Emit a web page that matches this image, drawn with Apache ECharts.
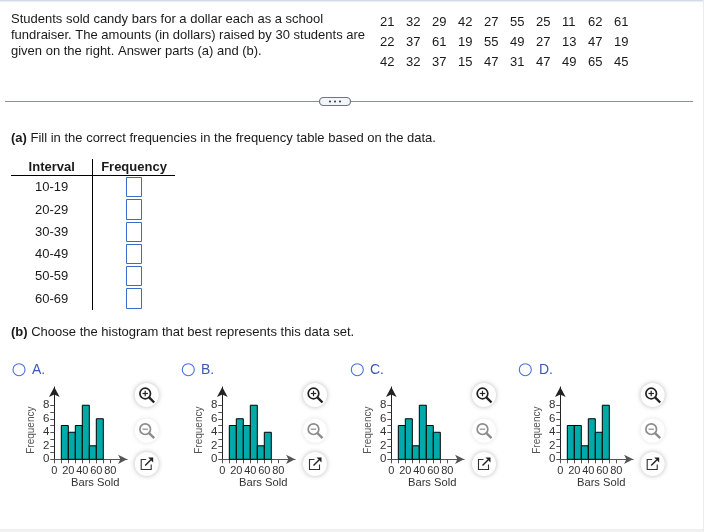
<!DOCTYPE html>
<html><head><meta charset="utf-8">
<style>html,body{margin:0;padding:0;background:#fff}#c{width:704px;height:532px}</style>
<script src="https://cdn.jsdelivr.net/npm/echarts@6/dist/echarts.min.js"></script>
</head><body><div id="c"></div>
<script>
const questionLines = ['Students sold candy bars for a dollar each as a school','fundraiser. The amounts (in dollars) raised by 30 students are','given on the right. Answer parts (a) and (b).'];
const dataRow1 = [21,32,29,42,27,55,25,11,62,61];
const dataRow2 = [22,37,61,19,55,49,27,13,47,19];
const dataRow3 = [42,32,37,15,47,31,47,49,65,45];
const intervals = ['10-19','20-29','30-39','40-49','50-59','60-69'];
const binStarts = [10,20,30,40,50,60];
const binWidth = 10;
const freqA = [5,4,5,8,2,6];
const freqB = [5,6,5,8,2,4];
const freqC = [5,6,2,8,5,4];
const freqD = [5,5,2,6,4,8];
const optionNames = ['A.','B.','C.','D.'];
const xTicks = [0,10,20,30,40,50,60,70,80];
const xLabels = [0,20,40,60,80];
const yTicks = [0,1,2,3,4,5,6,7,8];
const yLabels = [0,2,4,6,8];
const FONT = 'Arial, "Liberation Sans", sans-serif';
const allFreq = [freqA,freqB,freqC,freqD];
const x0s = [54.3,222.3,391.3,560.3];
const radioX = [19,188.3,357.3,525.3];
const labelX = [32,201,370,539];
const iconX = [146.7,315,484,652.7];
const gfx = [];
const T = (t,x,y,o={}) => gfx.push({type:'text',silent:true,style:Object.assign({text:String(t),x,y:y+1,fill:'#1a1a1a',font:'13px '+FONT,verticalAlign:'middle',align:'left'},o)});
const L = (x1,y1,x2,y2,stroke,lw=1,extra={}) => ({type:'line',silent:true,shape:{x1,y1,x2,y2},style:Object.assign({stroke,lineWidth:lw},extra)});
const R = (x,y,w,h,style,r=0) => ({type:'rect',silent:true,shape:{x,y,width:w,height:h,r},style});

gfx.push(R(0,0,704,1.5,{fill:'#d5dbe6'}));
gfx.push(R(0,529,704,3,{fill:'#f0f0f0'}));
gfx.push(R(703,0,1,532,{fill:'#ececec'}));
questionLines.forEach((s,i)=>T(s,11,[18.5,34.5,50.5][i]));
[dataRow1,dataRow2,dataRow3].forEach((row,r)=>row.forEach((v,c)=>T(v,380+c*26,[21,41,61][r])));
gfx.push(L(5,101.5,693,101.5,'#8a8f99',1));
gfx.push(R(319.5,97.5,31,8,{fill:'#f3f5f8',stroke:'#6d7580',lineWidth:1.2},4));
[330,335,340].forEach(x=>gfx.push({type:'circle',silent:true,shape:{cx:x,cy:101.5,r:1.1},style:{fill:'#3f4753'}}));

gfx.push({type:'text',silent:true,style:{x:11,y:138.5,verticalAlign:'middle',fill:'#1a1a1a',text:'{b|(a)} Fill in the correct frequencies in the frequency table based on the data.',rich:{b:{font:'bold 13px '+FONT,fill:'#1a1a1a'}},font:'13px '+FONT}});
T('Interval',51.7,166,{align:'center',font:'bold 13px '+FONT});
T('Frequency',134,166,{align:'center',font:'bold 13px '+FONT});
gfx.push(L(11,175.5,175,175.5,'#000',1));
gfx.push(L(92.5,159,92.5,310,'#000',1));
const rowY=[186.3,209,231,253,275,298];
const boxT=[177.5,199.5,222.5,244.5,266.5,288.5];
const boxH=[19,20,19,19,19,20];
intervals.forEach((s,i)=>{T(s,51.7,rowY[i],{align:'center'});gfx.push(R(126.5,boxT[i],15,boxH[i],{fill:'#fff',stroke:'#3b6cc7',lineWidth:1}));});
gfx.push({type:'text',silent:true,style:{x:11,y:332.2,verticalAlign:'middle',fill:'#1a1a1a',text:'{b|(b)} Choose the histogram that best represents this data set.',rich:{b:{font:'bold 13px '+FONT,fill:'#1a1a1a'}},font:'13px '+FONT}});

function icons(cx){
  const disc=(cy,a)=>({type:'circle',silent:true,shape:{cx,cy,r:12},style:{fill:'#fff',shadowBlur:5,shadowColor:'rgba(0,0,0,'+a+')'}});
  const mag=(cy,col,plus)=>{
    const a=[disc(cy,plus?.28:.12),
      {type:'circle',silent:true,shape:{cx:cx-1.5,cy:cy-1.5,r:5.3},style:{fill:'none',stroke:col,lineWidth:1.7}},
      L(cx+2.4,cy+2.4,cx+7.5,cy+7.5,col,2.4),L(cx-4.2,cy-1.5,cx+1.2,cy-1.5,col,1.2)];
    if(plus)a.push(L(cx-1.5,cy-4.2,cx-1.5,cy+1.2,col,1.2));
    return a;};
  gfx.push(...mag(395,'#222',true),...mag(430.7,'#8c8c8c',false));
  const y=464;
  gfx.push(disc(y,.28),
   {type:'polyline',silent:true,shape:{points:[[cx-.5,y-4.5],[cx-5.5,y-4.5],[cx-5.5,y+5.5],[cx+4.5,y+5.5],[cx+4.5,y+.5]]},style:{fill:'none',stroke:'#333',lineWidth:1.1}},
   L(cx-1.5,y+1.5,cx+4,y-4,'#222',1.4),
   {type:'polygon',silent:true,shape:{points:[[cx+1.5,y-6.5],[cx+6.5,y-6.5],[cx+6.5,y-1.5]]},style:{fill:'#222'}});
}
optionNames.forEach((n,i)=>{
  gfx.push({type:'circle',silent:true,shape:{cx:radioX[i],cy:369.7,r:6},style:{fill:'#fff',stroke:'#4a6fd8',lineWidth:1.1}});
  T(n,labelX[i],368.9,{font:'14px '+FONT,fill:'#3d57b8'});
  icons(iconX[i]);
});

const grids=[],xAxes=[],yAxes=[],series=[];
allFreq.forEach((freq,i)=>{
  grids.push({left:x0s[i],top:387,width:72.8,height:72.3,containLabel:false,outerBoundsMode:'none'});
  xAxes.push({type:'value',gridIndex:i,min:0,max:104,splitLine:{show:false},
    name:'Bars Sold',nameLocation:'middle',nameGap:17,nameTextStyle:{fontFamily:FONT,fontSize:11.2,color:'#333',padding:[0,0,0,9]},
    axisLine:{show:true,symbol:['none','arrow'],symbolSize:[7,9],lineStyle:{color:'#555',width:1}},
    axisTick:{show:true,customValues:xTicks,length:4,lineStyle:{color:'#555'}},
    axisLabel:{customValues:xLabels,margin:6,fontFamily:FONT,fontSize:11,color:'#333',hideOverlap:false}});
  yAxes.push({type:'value',gridIndex:i,min:0,max:10.7,splitLine:{show:false},
    name:'Frequency',nameLocation:'middle',nameGap:18.5,nameTextStyle:{fontFamily:FONT,fontSize:10,color:'#555',padding:[0,14,0,0]},
    axisLine:{show:true,symbol:['none','arrow'],symbolSize:[8,10],lineStyle:{color:'#222',width:1}},
    axisTick:{show:true,customValues:yTicks,length:4,lineStyle:{color:'#555'}},
    axisLabel:{customValues:yLabels,margin:5,fontFamily:FONT,fontSize:11.5,color:'#333',hideOverlap:false}});
  series.push({type:'custom',xAxisIndex:i,yAxisIndex:i,clip:false,silent:true,
    data:binStarts.map((b,k)=>[b,freq[k]]),
    encode:{x:0,y:1},
    renderItem:(p,api)=>{
      const a=api.coord([api.value(0),0]),b=api.coord([api.value(0)+binWidth,api.value(1)]);
      return {type:'rect',shape:{x:a[0],y:b[1],width:b[0]-a[0],height:a[1]-b[1]},style:{fill:'#00aaa8',stroke:'#000',lineWidth:1}};
    }});
});
const chart=echarts.init(document.getElementById('c'),null,{width:704,height:532});
chart.setOption({animation:false,backgroundColor:'#fff',grid:grids,xAxis:xAxes,yAxis:yAxes,series,graphic:{elements:gfx}});
</script></body></html>
